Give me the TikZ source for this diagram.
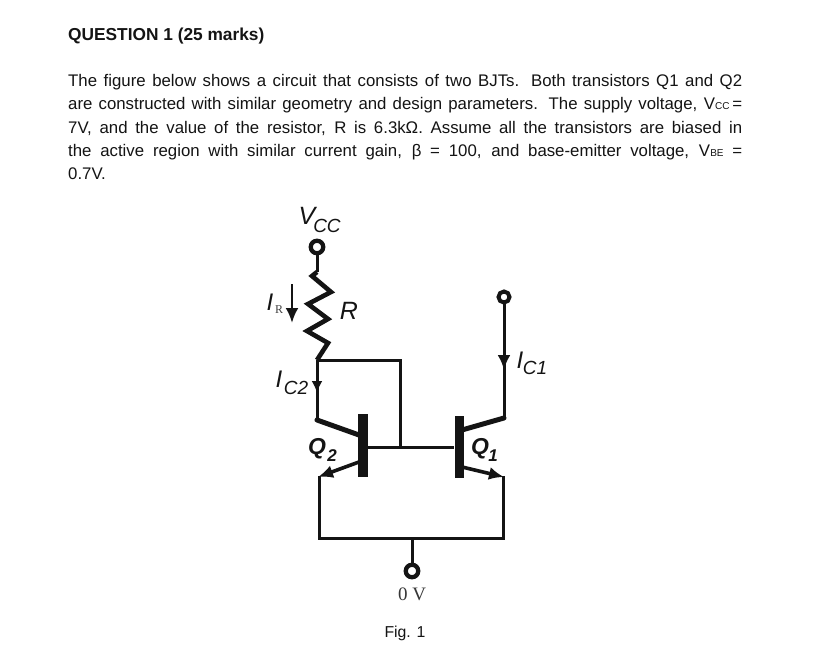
\documentclass[tikz,border=0pt]{standalone}
\usepackage{fontspec}
\setmainfont{Liberation Sans}
\newfontfamily\serifr{Liberation Serif}
\usetikzlibrary{arrows.meta}
\definecolor{ink}{HTML}{141414}
\newcommand{\jl}[1]{\makebox[674pt][s]{#1}}
\tikzset{
  wire/.style={draw=ink,line width=3pt,line join=miter},
  thick wire/.style={draw=ink,line width=5pt},
  bar/.style={fill=ink,draw=none},
  term/.style={circle,draw=ink,line width=4.3pt,fill=white,minimum size=12.5pt,inner sep=0pt,outer sep=0pt},
  bodyline/.style={anchor=base west,inner sep=0pt,text=ink,font=\fontsize{16.8}{18}\selectfont},
  lab/.style={inner sep=0pt,text=ink,font=\fontsize{20}{22}\selectfont\itshape},
  sub/.style={inner sep=0pt,text=ink,font=\fontsize{19}{20}\selectfont\itshape},
  tip/.style={-{Latex[length=12pt,width=11pt]}},
  bigtip/.style={-{Latex[length=15pt,width=13pt]}},
}
\begin{document}
\begin{tikzpicture}[x=1pt,y=-1pt]
\useasboundingbox[fill=white] (0,0) rectangle (820,661);
% text
\node[bodyline,font=\fontsize{17.3}{18}\selectfont\bfseries] (title) at (68,41) {QUESTION 1 (25 marks)};
\node[bodyline] (l1) at (68,87) {\jl{The figure below shows a circuit that consists of two BJTs. Both transistors Q1 and Q2}};
\node[bodyline] (l2) at (68,110) {\jl{are constructed with similar geometry and design parameters. The supply voltage, V{\fontsize{10}{10}\selectfont CC}\,=}};
\node[bodyline] (l3) at (68,133) {\jl{7V, and the value of the resistor, R is 6.3kΩ. Assume all the transistors are biased in}};
\node[bodyline] (l4) at (68,156) {\jl{the active region with similar current gain, β = 100, and base-emitter voltage, V{\fontsize{10}{10}\selectfont BE} =}};
\node[bodyline] (l5) at (68,179) {0.7V.};
% terminals
\coordinate (rtop) at (317,272);
\coordinate (rbot) at (317,360);
\coordinate (cq2) at (317,420);
\coordinate (cq2b) at (359,435);
\coordinate (eq2b) at (359,462);
\coordinate (eq2) at (318,477);
\coordinate (cq1b) at (462,430);
\coordinate (cq1) at (504,418);
\coordinate (eq1b) at (462,467);
\coordinate (eq1) at (504,477);
\coordinate (bl) at (319,538);
\coordinate (br) at (503,538);
\coordinate (bm) at (412,538);
\coordinate (loop) at (400,360);
\coordinate (base) at (400,447);
% wiring and resistor, below the terminals
\coordinate (vccc) at (317,247);
\coordinate (outc) at (504,297);
\coordinate (gndc) at (412,571);
\draw[wire] (vccc) -- (rtop);
\draw[draw=ink,line width=4.6pt,line join=miter] (rtop) -- (312,276) -- (331,292) -- (308,304) -- (328,319) -- (307,331) -- (328,343) -- (rbot);
\draw[wire] (rbot) -- (cq2);
\draw[wire] (rbot) -- (loop) -- (base);
\draw[wire] (outc) -- (cq1);
\draw[thick wire,line cap=round] (cq2) -- (cq2b);
\draw[thick wire,line cap=round] (cq1b) -- (cq1);
\draw[wire] (bm) -- (gndc);
\node[term] (vcc) at (vccc) {};
\node[term,minimum size=11pt,line width=4pt] (out) at (outc) {};
\node[term] (gnd) at (gndc) {};
% bars
\node[bar,minimum width=10pt,minimum height=63pt,inner sep=0pt] (q2) at (363,445.5) {};
\node[bar,minimum width=9pt,minimum height=62pt,inner sep=0pt] (q1) at (459,446.5) {};
\draw[wire] (q2.east |- base) -- (q1.west |- base);
% emitters
\draw[draw=ink,line width=3.6pt,bigtip] (eq2b) -- (eq2);
\draw[draw=ink,line width=3.6pt,bigtip] (eq1b) -- (eq1);
\draw[wire,line cap=square] (319,476) -- (bl) -- (br) -- (503,476);
% current arrows
\coordinate (ira) at (292,284);
\coordinate (irb) at (292,323);
\draw[draw=ink,line width=2.8pt,bigtip] (ira) -- (irb);
\coordinate (ic2a) at (317,375);
\coordinate (ic2b) at (317,393);
\draw[wire,tip] (ic2a) -- (ic2b);
\coordinate (ic1a) at (504,345);
\coordinate (ic1b) at (504,370);
\draw[wire,bigtip] (ic1a) -- (ic1b);
% labels
\node[lab,font=\fontsize{25}{26}\selectfont\itshape] (vv) at (307,216) {V};
\node[sub] (vs) at (327,226) {CC};
\node[lab,font=\fontsize{24}{26}\selectfont\itshape] (ir) at (270,302) {I};
\node[inner sep=0pt,text=ink!80,font=\fontsize{12}{13}\selectfont\serifr] (irs) at (279,310) {R};
\node[lab,font=\fontsize{25}{26}\selectfont\itshape] (rl) at (349,311) {R};
\node[lab,font=\fontsize{24}{26}\selectfont\itshape] (ic2i) at (279,379) {I};
\node[sub] (ic2s) at (296,388) {C2};
\node[lab,font=\fontsize{24}{26}\selectfont\itshape] (ic1i) at (520,360) {I};
\node[sub] (ic1s) at (535,368) {C1};
\node[lab,font=\fontsize{23}{24}\selectfont\bfseries\itshape] (q2l) at (317,449) {Q};
\node[sub,font=\fontsize{17}{18}\selectfont\bfseries\itshape] (q2s) at (332,456) {2};
\node[lab,font=\fontsize{23}{24}\selectfont\bfseries\itshape] (q1l) at (480,449) {Q};
\node[sub,font=\fontsize{17}{18}\selectfont\bfseries\itshape] (q1s) at (493,456) {1};
\node[inner sep=0pt,text=ink!85,font=\fontsize{19}{20}\selectfont\serifr] (zero) at (412,594) {0 V};
\node[inner sep=0pt,text=ink,font=\fontsize{15.8}{17}\selectfont] (fig) at (405,633) {Fig. 1};
\end{tikzpicture}
\end{document}
